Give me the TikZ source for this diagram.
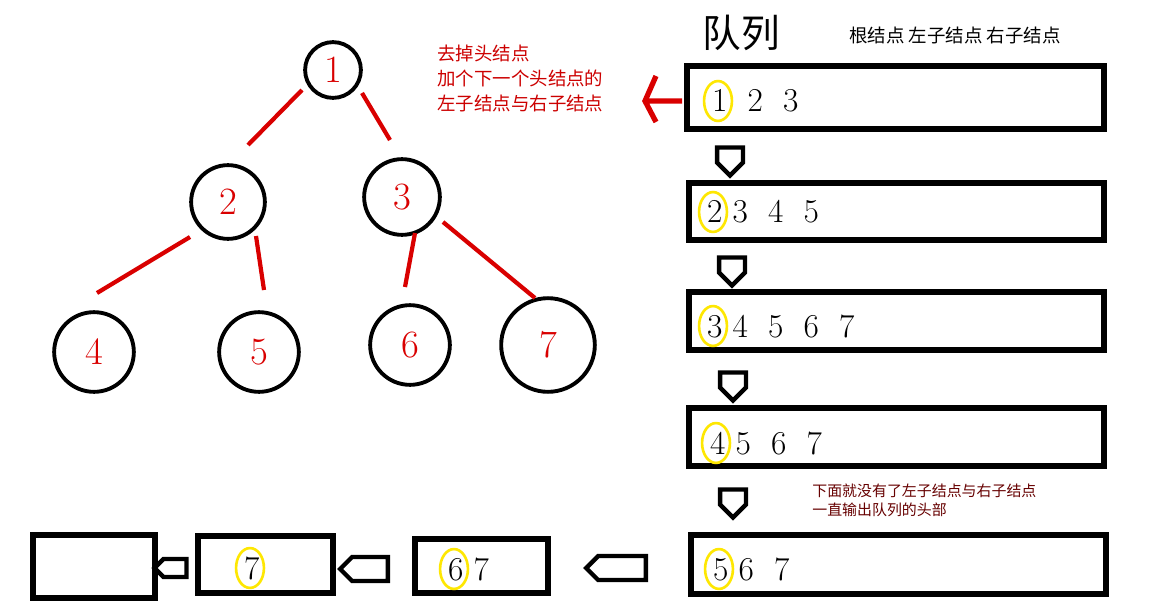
\documentclass[tikz,border=0pt]{standalone}
\usepackage{fontspec}
\newfontfamily\cjk{Noto Sans CJK SC}
\usetikzlibrary{shapes.arrows,shapes.geometric}
\newdimen\pxu
\pxu=0.567pt
\begin{document}
\begin{tikzpicture}[x=0.02cm, y=-0.02cm,
	tnode/.style={circle, draw, line width=2.2pt, text=red!85!black, font=\fontsize{22}{22}\selectfont, inner sep=0pt},
	tedge/.style={red!85!black, line width=2.4pt},
	qbox/.style={draw, line width=3.5pt},
	qtext/.style={anchor=west, font=\fontsize{19}{19}\selectfont},
	head/.style={draw=yellow!90!orange, line width=1.5pt, ellipse, minimum width=28\pxu, minimum height=40\pxu, inner sep=0pt},
	darr/.style={single arrow, draw, line width=2.5pt, fill=white, rotate=-90, minimum height=28\pxu, minimum width=26\pxu, single arrow head extend=0pt, inner sep=1pt},
	larr/.style={single arrow, draw, line width=2.5pt, fill=white, shape border rotate=180, minimum width=24\pxu, single arrow head extend=0pt, inner sep=1pt}]
	\useasboundingbox (0,0) rectangle (1173,612);
	% tree
	\node[tnode, minimum size=56\pxu] (n1) at (333,70) {1};
	\node[tnode, minimum size=74\pxu] (n2) at (228,202) {2};
	\node[tnode, minimum size=76\pxu] (n3) at (402,197) {3};
	\node[tnode, minimum size=80\pxu] (n4) at (94,352) {4};
	\node[tnode, minimum size=80\pxu] (n5) at (259,352) {5};
	\node[tnode, minimum size=80\pxu] (n6) at (410,345) {6};
	\node[tnode, minimum size=94\pxu] (n7) at (548,345) {7};
	\draw[tedge] (302,90) -- (248,145);
	\draw[tedge] (362,93) -- (390,140);
	\draw[tedge] (190,237) -- (97,293);
	\draw[tedge] (256,236) -- (264,290);
	\draw[tedge] (415,233) -- (405,287);
	\draw[tedge] (443,222) -- (535,298);
	% queue
	\node[font=\cjk\fontsize{22}{22}\selectfont] (title) at (741,33) {队列};
	\node[font=\cjk\fontsize{10.5}{11}\selectfont] (cols) at (955,35) {根结点\ 左子结点\ 右子结点};
	\draw[qbox] (687,66) rectangle (1104,129);
	\draw[qbox] (689,183) rectangle (1104,240);
	\draw[qbox] (689,292) rectangle (1104,350);
	\draw[qbox] (689,408) rectangle (1104,466);
	\draw[qbox] (691,535) rectangle (1106,594);
	\draw[qbox] (415,539) rectangle (548,593);
	\draw[qbox] (198,536) rectangle (333,593);
	\draw[qbox] (33,535) rectangle (155,598);
	\node[head] (h1) at (718,101) {};
	\node[qtext] (q1) at (706,101) {1\ \ 2\ \ 3};
	\node[head] (h2) at (713,212) {};
	\node[qtext] (q2) at (701,212) {2\ 3\ \ 4\ \ 5};
	\node[head] (h3) at (713,326) {};
	\node[qtext] (q3) at (701,326) {3\ 4\ \ 5\ \ 6\ \ 7};
	\node[head] (h4) at (716,443) {};
	\node[qtext] (q4) at (704,443) {4\ 5\ \ 6\ \ 7};
	\node[head] (h5) at (719,569) {};
	\node[qtext] (q5) at (707,569) {5\ 6\ \ 7};
	\node[head] (h6) at (454,569) {};
	\node[qtext] (q6) at (442,569) {6\ 7};
	\node[head] (h7) at (250,568) {};
	\node[qtext] (q7) at (238,568) {7};
	% arrows
	\node[darr] (d1) at (730,155) {};
	\node[darr] (d2) at (732,265) {};
	\node[darr] (d3) at (733,380) {};
	\node[darr] (d4) at (733,497) {};
	\node[larr, minimum height=60\pxu] (l1) at (622,568) {};
	\node[larr, minimum height=48\pxu] (l2) at (370,569) {};
	\node[larr, minimum height=32\pxu, minimum width=18\pxu] (l3) at (175,568) {};
	\draw[red!85!black, line width=3pt] (682,101) -- (645,101) (656,76) -- (645,101) -- (656,122);
	\node[align=left, text=red!80!black, font=\cjk\fontsize{10.5}{14}\selectfont, anchor=north west, inner sep=0pt] (note1) at (437,45) {去掉头结点\\加个下一个头结点的\\左子结点与右子结点};
	\node[align=left, text=red!40!black, font=\cjk\fontsize{8.5}{10.5}\selectfont, anchor=north west, inner sep=0pt] (note2) at (812,484) {下面就没有了左子结点与右子结点\\一直输出队列的头部};
\end{tikzpicture}
\end{document}
